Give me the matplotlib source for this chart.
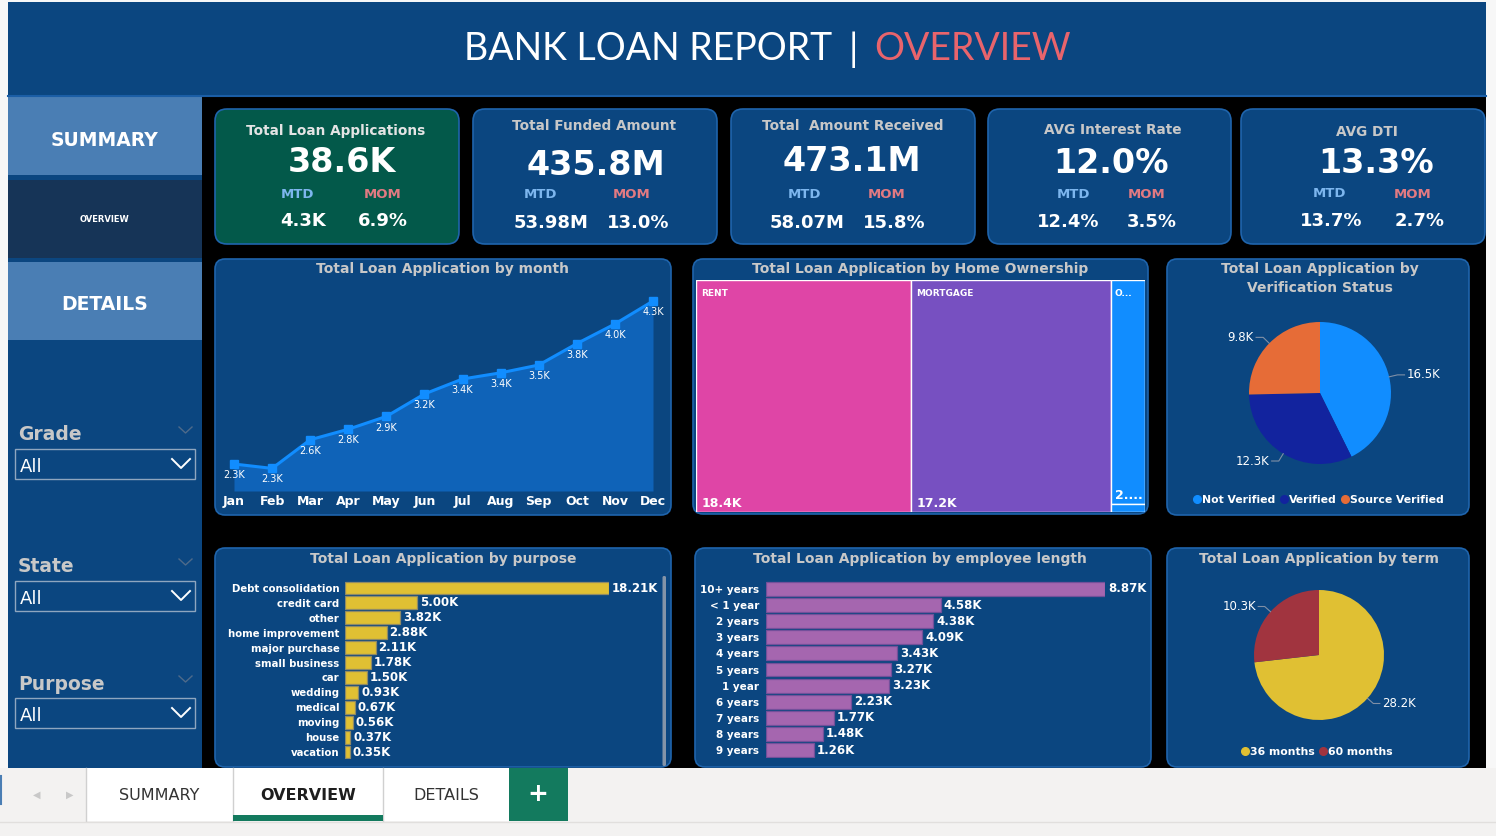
import numpy as np
import matplotlib
matplotlib.use("Agg")
import matplotlib.pyplot as plt
from matplotlib.patches import FancyBboxPatch, Rectangle
from matplotlib.lines import Line2D

# ---------------- data ----------------
kpi_titles = ["Total Loan Applications", "Total Funded Amount", "Total  Amount Received",
              "AVG Interest Rate", "AVG DTI"]
kpi_values = ["38.6K", "435.8M", "473.1M", "12.0%", "13.3%"]
kpi_mtd = ["4.3K", "53.98M", "58.07M", "12.4%", "13.7%"]
kpi_mom = ["6.9%", "13.0%", "15.8%", "3.5%", "2.7%"]

months = ["Jan", "Feb", "Mar", "Apr", "May", "Jun", "Jul", "Aug", "Sep", "Oct", "Nov", "Dec"]
month_apps = [2332, 2279, 2627, 2755, 2911, 3184, 3366, 3441, 3536, 3796, 4035, 4314]

home_names = ["RENT", "MORTGAGE", "OWN", "OTHER"]
home_apps = [18439, 17198, 2838, 98]

verif_names = ["Not Verified", "Verified", "Source Verified"]
verif_apps = [16464, 12335, 9774]

term_names = ["36 months", "60 months"]
term_apps = [28237, 10336]

purpose_names = ["Debt consolidation", "credit card", "other", "home improvement",
                 "major purchase", "small business", "car", "wedding", "medical",
                 "moving", "house", "vacation"]
purpose_k = [18.21, 5.00, 3.82, 2.88, 2.11, 1.78, 1.50, 0.93, 0.67, 0.56, 0.37, 0.35]

emp_names = ["10+ years", "< 1 year", "2 years", "3 years", "4 years", "5 years",
             "1 year", "6 years", "7 years", "8 years", "9 years"]
emp_k = [8.87, 4.58, 4.38, 4.09, 3.43, 3.27, 3.23, 2.23, 1.77, 1.48, 1.26]

filters = ["Grade", "State", "Purpose"]
tabs = ["SUMMARY", "OVERVIEW", "DETAILS"]

# ---------------- style ----------------
BLUE = "#0B4680"
BORDER = "#1F64AC"
GREEN = "#03594A"
BTN = "#4A7EB4"
NAVY = "#163457"
TGREY = "#C8C8C8"
MTDC = "#7DB6EE"
MOMC = "#E27A82"

W, H = 1496, 836
fig = plt.figure(figsize=(W / 100, H / 100), dpi=100)
fig.patch.set_facecolor("white")
base = fig.add_axes([0, 0, 1, 1])
base.set_xlim(0, W)
base.set_ylim(H, 0)
base.axis("off")


def px_axes(x0, y0, x1, y1):
    ax = fig.add_axes([x0 / W, 1 - y1 / H, (x1 - x0) / W, (y1 - y0) / H])
    ax.set_facecolor("none")
    for s in ax.spines.values():
        s.set_visible(False)
    return ax


def rect(x0, y0, x1, y1, fc, z=1):
    base.add_patch(Rectangle((x0, y0), x1 - x0, y1 - y0, fc=fc, ec="none", zorder=z))


def panel(x0, y0, x1, y1, fc=BLUE, r=10, ec=BORDER, lw=1.2):
    base.add_patch(FancyBboxPatch((x0, y0), x1 - x0, y1 - y0,
                                  boxstyle=f"round,pad=0,rounding_size={r}",
                                  fc=fc, ec=ec, lw=lw, zorder=2))


def txt(x, y, s, size, color="white", weight="normal", ha="center", va="center_baseline", **kw):
    base.text(x, y, s, fontsize=size, color=color, fontweight=weight, ha=ha, va=va, zorder=5, **kw)


# ---------------- frame ----------------
rect(0, 0, W, H, "#F7F7F7", z=0)
rect(8, 2, 1486, 95, BLUE)
base.plot([8, 1486], [95.5, 95.5], color="#1B5EA6", lw=1.5, zorder=3)
rect(202, 96, 1486, 768, "black")
rect(8, 96, 202, 768, BLUE)
rect(8, 97, 202, 175, BTN)
rect(8, 180, 202, 258, NAVY)
rect(8, 262, 202, 340, BTN)

txt(832, 46, "BANK LOAN REPORT", 27, ha="right", family="Lato")
txt(853, 46, "|", 27, family="Lato")
txt(874, 46, "OVERVIEW", 27, color="#E8646C", ha="left", family="Lato")

txt(105, 138, "SUMMARY", 13.5, weight="bold")
txt(105, 219, "OVERVIEW", 6, weight="bold")
txt(105, 302, "DETAILS", 13.5, weight="bold")

# slicers
for name, ly in zip(filters, [432, 564, 681]):
    txt(18, ly + 1, name, 13.5, color=TGREY, weight="bold", ha="left")
    base.plot([179, 185.5, 192], [ly - 5, ly + 1, ly - 5], color="#4E6A8A", lw=1, zorder=4)
    by = ly + 17
    base.add_patch(Rectangle((15, by), 180, 30, fc="none", ec="#8FA6BF", lw=1, zorder=4))
    txt(20, by + 16, "All", 13, ha="left")
    base.plot([172, 181, 190], [by + 10, by + 19, by + 10], color="white", lw=1.4, zorder=4)

# ---------------- KPI cards ----------------
card_x = [(215, 459), (473, 717), (731, 975), (988, 1231), (1241, 1485)]
title_xy = [(336, 129), (594, 124), (853, 124), (1113, 129), (1367, 130)]
value_xy = [(342, 159), (596, 162), (852, 158), (1111, 160), (1376, 160)]
mtd_lab = [(298, 193), (541, 193), (805, 193), (1074, 193), (1330, 192)]
mom_lab = [(383, 193), (632, 193), (887, 193), (1147, 193), (1413, 193)]
mtd_val = [(303, 219), (551, 221), (807, 221), (1068, 220), (1331, 219)]
mom_val = [(383, 219), (638, 221), (894, 221), (1152, 220), (1420, 219)]
for i in range(5):
    x0, x1 = card_x[i]
    panel(x0, 109, x1, 244, fc=GREEN if i == 0 else BLUE, r=12)
    txt(*title_xy[i], kpi_titles[i], 9.8, color="#E4E4E4" if i == 0 else TGREY, weight="bold")
    txt(*value_xy[i], kpi_values[i], 24, weight="bold")
    txt(*mtd_lab[i], "MTD", 9.5, color=MTDC, weight="bold")
    txt(*mom_lab[i], "MOM", 9.5, color=MOMC, weight="bold")
    txt(*mtd_val[i], kpi_mtd[i], 13, weight="bold")
    txt(*mom_val[i], kpi_mom[i], 13, weight="bold")

# ---------------- chart panels ----------------
panel(215, 259, 671, 515)
panel(693, 259, 1148, 514)
panel(1167, 259, 1469, 515)
panel(215, 548, 671, 767)
panel(695, 548, 1151, 767)
panel(1167, 548, 1469, 767)
txt(443, 268, "Total Loan Application by month", 10, color=TGREY, weight="bold")
txt(920, 268, "Total Loan Application by Home Ownership", 10, color=TGREY, weight="bold")
txt(1320, 268, "Total Loan Application by", 10, color=TGREY, weight="bold")
txt(1320, 286, "Verification Status", 10, color=TGREY, weight="bold")
txt(443, 558, "Total Loan Application by purpose", 10, color=TGREY, weight="bold")
txt(920, 558, "Total Loan Application by employee length", 10, color=TGREY, weight="bold")
txt(1319, 558, "Total Loan Application by term", 10, color=TGREY, weight="bold")

# ---------------- line / area chart ----------------
ax = px_axes(234, 285, 653, 491)
x = np.arange(len(months))
ax.set_xlim(0, len(months) - 1)
ax.set_ylim(2004, 4509)
ax.fill_between(x, month_apps, ax.get_ylim()[0], color="#0F63B8", lw=0)
ax.plot(x, month_apps, color="#118DFF", lw=2.2, marker="s", ms=5.5, clip_on=False)
for xi, v in zip(x, month_apps):
    ax.annotate(f"{v / 1000:.1f}K", (xi, v), xytext=(0, -8), textcoords="offset points",
                ha="center", va="center", fontsize=7, color="white", annotation_clip=False)
ax.set_xticks(x, months)
ax.set_yticks([])
ax.tick_params(axis="x", length=0, pad=3, labelsize=9, labelcolor="white")
for lbl in ax.get_xticklabels():
    lbl.set_fontweight("bold")

# ---------------- treemap ----------------
ax = px_axes(696, 280, 1145, 512)
total = sum(home_apps)
ax.set_xlim(0, total)
ax.set_ylim(0, 1)
ax.set_xticks([])
ax.set_yticks([])
home_colors = ["#DF45A6", "#7750C1", "#118DFF", "#118DFF"]
left = 0
for name, v, c in zip(home_names[:2], home_apps[:2], home_colors[:2]):
    ax.add_patch(Rectangle((left, 0), v, 1, fc=c, ec="white", lw=1))
    ax.annotate(name, (left, 1), xytext=(4, -10), textcoords="offset points",
                fontsize=6.5, color="white", fontweight="bold", va="center")
    ax.annotate(f"{v / 1000:.1f}K", (left, 0), xytext=(4, 6), textcoords="offset points",
                fontsize=9, color="white", fontweight="bold", va="center")
    left += v
rest = sum(home_apps[2:])
top = 1
for name, v, c in zip(home_names[2:], home_apps[2:], home_colors[2:]):
    h = v / rest
    ax.add_patch(Rectangle((left, top - h), rest, h, fc=c, ec="white", lw=1))
    if h > 0.5:
        ax.annotate(name[:1] + "...", (left, 1), xytext=(3, -10), textcoords="offset points",
                    fontsize=6.5, color="white", fontweight="bold", va="center")
        ax.annotate(f"{v / 1000:.1f}K"[:1] + "....", (left, top - h), xytext=(3, 6),
                    textcoords="offset points", fontsize=9, color="white",
                    fontweight="bold", va="center")
    top -= h


# ---------------- pies ----------------
def pie(cx, cy, r, vals, colors, names, legend_xy):
    ax = px_axes(cx - r, cy - r, cx + r, cy + r)
    wedges, _ = ax.pie(vals, colors=colors, startangle=90, counterclock=False,
                       radius=1, wedgeprops=dict(linewidth=0))
    ax.set_xlim(-1, 1)
    ax.set_ylim(-1, 1)
    ax.set_aspect("equal")
    for w, v in zip(wedges, vals):
        a = np.deg2rad((w.theta1 + w.theta2) / 2)
        ex, ey = np.cos(a), np.sin(a)
        elx, ely = 1.12 * ex, 1.12 * ey
        sg = 1 if ex > 0 else -1
        ax.plot([ex, elx, elx + sg * 0.1], [ey, ely, ely], color="#7F8FA6", lw=0.8, clip_on=False)
        ax.text(elx + sg * 0.13, ely, f"{v / 1000:.1f}K", ha="left" if sg > 0 else "right",
                va="center", fontsize=8.5, color="white", clip_on=False)
    handles = [Line2D([], [], marker="o", ls="", color=c, ms=5.5) for c in colors]
    ax.legend(handles, names, loc="center", bbox_to_anchor=(legend_xy[0] / W, 1 - legend_xy[1] / H),
              bbox_transform=fig.transFigure, ncol=len(names), frameon=False,
              handlelength=0.6, handletextpad=0.15, columnspacing=0.5, borderaxespad=0,
              prop={"weight": "bold", "size": 7.8}, labelcolor="white")


pie(1320, 393, 71, verif_apps, ["#118DFF", "#12239E", "#E66C37"], verif_names, (1319, 500))
pie(1319, 655, 65, term_apps, ["#E0C033", "#A1343F"], term_names, (1317, 752))


# ---------------- bar charts ----------------
def hbars(x0, x1, yc0, yc1, names, vals, color, edge, tsize, pad):
    n = len(names)
    step = (yc1 - yc0) / (n - 1)
    ax = px_axes(x0, yc0 - step / 2, x1, yc1 + step / 2)
    ax.set_xlim(0, max(vals))
    ax.set_ylim(n - 0.5, -0.5)
    bars = ax.barh(range(n), vals, height=0.86, color=color, edgecolor=edge, lw=0.9)
    ax.bar_label(bars, labels=[f"{v:.2f}K" for v in vals], padding=2,
                 fontsize=8.5, color="white", fontweight="bold")
    ax.set_yticks(range(n), names)
    ax.set_xticks([])
    ax.tick_params(axis="y", length=0, pad=pad, labelsize=tsize, labelcolor="white")
    for lbl in ax.get_yticklabels():
        lbl.set_fontweight("bold")


hbars(345, 609, 588, 752, purpose_names, purpose_k, "#E0C033", "#8F8A66", 7.3, 4)
hbars(766, 1105, 589, 750, emp_names, emp_k, "#A566AF", "#72509A", 7.5, 5)

# scrollbar in purpose panel
base.add_patch(FancyBboxPatch((662.5, 576), 3.5, 190, boxstyle="round,pad=0,rounding_size=1.5",
                              fc="#8494A8", ec="none", zorder=4))

# ---------------- sheet tabs ----------------
rect(0, 768, W, 836, "#F3F2F1", z=6)
tab_x = [(86, 233), (233, 383), (383, 509)]
for (a, b), name in zip(tab_x, tabs):
    rect(a, 768, b, 821, "white", z=7)
    base.plot([a, a], [768, 821], color="#D0D0D0", lw=1, zorder=8)
    active = name == "OVERVIEW"
    base.text((a + b) / 2, 796, name, fontsize=11.5, color="#1E1E1E" if active else "#333333",
              fontweight="bold" if active else "normal", ha="center", va="center", zorder=9)
rect(233, 815, 383, 821, "#137A5E", z=8)
rect(509, 768, 568, 821, "#137A5E", z=7)
base.text(538, 794, "+", fontsize=18, color="white", fontweight="bold", ha="center",
          va="center", zorder=9)
base.plot([0, W], [821.5, 821.5], color="#E1DFDD", lw=1, zorder=8)
base.text(37, 795, "\u25C0", fontsize=7, color="#C8C8C8", ha="center", va="center", zorder=9)
base.text(70, 795, "\u25B6", fontsize=7, color="#C8C8C8", ha="center", va="center", zorder=9)
base.plot([1.5, 1.5], [776, 804], color="#4A7EB4", lw=1.5, zorder=9)

fig.savefig("out.png", dpi=100)
